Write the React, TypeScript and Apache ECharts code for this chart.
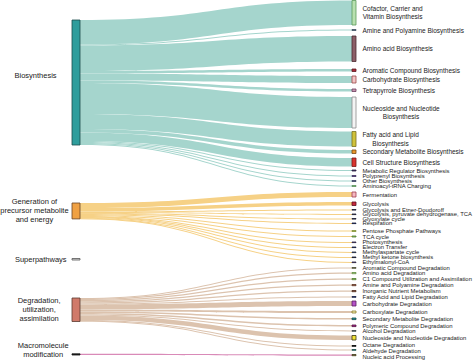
import React, { useEffect, useRef } from 'react';
import * as echarts from 'echarts';

// ---------- data ----------
const sourceNames = [
  'Biosynthesis',
  'Generation of\nprecursor metabolite\nand energy',
  'Superpathways',
  'Degradation,\nutilization,\nassimilation',
  'Macromolecule\nmodification',
];

const biosynthesisTargets = [
  'Cofactor, Carrier and\nVitamin Biosynthesis',
  'Amine and Polyamine Biosynthesis',
  'Amino acid Biosynthesis',
  'Aromatic Compound Biosynthesis',
  'Carbohydrate Biosynthesis',
  'Tetrapyrrole Biosynthesis',
  'Nucleoside and Nucleotide\nBiosynthesis',
  'Fatty acid and Lipid\nBiosynthesis',
  'Secondary Metabolite Biosynthesis',
  'Cell Structure Biosynthesis',
  'Metabolic Regulator Biosynthesis',
  'Polyprenyl Biosynthesis',
  'Other Biosynthesis',
  'Aminoacyl-tRNA Charging',
];
const biosynthesisValues = [24.5, 1, 25.5, 2.5, 7, 2.5, 31, 15, 3.5, 8.5, 1, 1, 1, 1];

const energyTargets = [
  'Fermentation',
  'Glycolysis',
  'Glycolysis and Etner-Doudoroff',
  'Glycolysis, pyruvate dehydrogenase, TCA',
  'Glyoxylate cycle',
  'Respiration',
  'Pentose Phosphate Pathways',
  'TCA cycle',
  'Photosynthesis',
  'Electron Transfer',
  'Methylaspartate cycle',
  'Methyl ketone biosynthesis',
  'Ethylmalonyl-CoA',
];
const energyValues = [5, 3.5, 0.6, 0.6, 0.6, 0.6, 1, 1, 0.6, 0.6, 0.6, 0.6, 0.6];

const superpathwaysValue = 1.5;

const degradationTargets = [
  'Aromatic Compound Degradation',
  'Amino acid Degradation',
  'C1 Compound Utilization and Assimilation',
  'Amine and Polyamine Degradation',
  'Inorganic Nutrient Metabolism',
  'Fatty Acid and Lipid Degradation',
  'Carbohydrate Degradation',
  'Carboxylate Degradation',
  'Secondary Metabolite Degradation',
  'Polymeric Compound Degradation',
  'Alcohol Degradation',
  'Nucleoside and Nucleotide Degradation',
  'Octane Degradation',
  'Aldehyde Degradation',
];
const degradationValues = [0.8, 1.2, 1.2, 1.2, 1.2, 0.8, 5, 2, 1.6, 1.6, 0.8, 4.5, 0.8, 0.8];

const modificationTargets = ['Nucleic acid Processing'];
const modificationValues = [1.2];

// ---------- layout (pixels within the 474x360 chart) ----------
const W = 474;
const H = 360;
const LEFT_X = 72;
const RIGHT_X = 352;
const sourceTops = [20, 203, 258.5, 298, 353.8];
const sourceLabelDistance = [15, 3, 5, 11, 3];
const sourceLabelDy = [-7, 0, 0, 0, -4.5];
const targetTops = [
  // biosynthesis
  0.5, 29.5, 36, 69, 76, 89, 97, 131.5, 150, 158, 170, 175.5, 180.5, 185.5,
  // energy
  192, 202, 209.5, 214, 218.5, 223, 230.5, 236, 242, 247, 252, 257, 262,
  // degradation
  267.5, 272.5, 278.5, 284.5, 290.5, 296.5, 301, 311, 318, 325, 330.5, 335.5, 345.5, 349.5,
  // modification
  354.5,
];
const targetLabelDy: Record<string, number> = {
  'Octane Degradation': -0.8,
  'Aldehyde Degradation': 0.6,
  'Nucleic acid Processing': 1.8,
};

// ---------- styles ----------
const sourceFill = ['#2f9d9c', '#f0a144', '#dcdcdc', '#d07a6a', '#222222'];
const sourceBorder = ['#1d4c4c', '#6a4526', '#555555', '#5a3a30', '#111111'];
const linkColors = ['#a5d5cd', '#f6d186', '#cccccc', '#dcc3ae', '#d98ab8'];
const LARGE_FONT = 6.5;
const SMALL_FONT = 5.9;
const targetFill = [
  '#b8e0b0', '#6f8fa0', '#8c5f68', '#b02a3a', '#f2c4c4', '#c896b0', '#f4f4f4', '#cfc23a', '#e8962a', '#d8342e', '#4a3f6a', '#7a5f9a', '#6a7aa8', '#dcecd0',
  '#f6b8c0', '#c8283c', '#2e3560', '#3a3a5a', '#3a3f66', '#25306a', '#e6ecb0', '#a8cf7a', '#5a4a7a', '#2a3a70', '#4a5a7a', '#2a2f55', '#5a5070',
  '#8a8a6a', '#cfe0b0', '#b8d890', '#a8705a', '#9a5a48', '#233a8a', '#b452c8', '#f4eeb0', '#2a9aa0', '#a8288c', '#7a8c8c', '#f2e438', '#151515', '#3a9a96',
  '#8a7a4a',
];
const targetBorder = [
  '#5a9a5a', '#3a4a5a', '#4a2a30', '#5a1a20', '#9a4a4a', '#6a3a5a', '#8a8a8a', '#7a7020', '#7a4a10', '#7a1a18', '#2a2040', '#3a2a5a', '#3a4060', '#4e8b4e',
  '#a04050', '#5a1020', '#1a1a30', '#1a1a30', '#1a1a30', '#10183a', '#7a8a2a', '#4a7a2a', '#2a2040', '#10183a', '#202a40', '#10142a', '#2a2040',
  '#4a4a30', '#5a8a3a', '#4a7a2a', '#5a3020', '#4a2818', '#101a40', '#5a2060', '#8a7a2a', '#10484a', '#501040', '#3a4444', '#3a3510', '#000000', '#184a48',
  '#403818',
];

const FONT = "'Liberation Sans', Arial, sans-serif";

const groups = [
  { targets: biosynthesisTargets, values: biosynthesisValues },
  { targets: energyTargets, values: energyValues },
  { targets: [] as string[], values: [] as number[] },
  { targets: degradationTargets, values: degradationValues },
  { targets: modificationTargets, values: modificationValues },
];

const richLabel = (p: any) =>
  String(p.name)
    .split('\n')
    .map((s) => `{c|${s}}`)
    .join('\n');

function buildSeries(showLeft: boolean) {
  const targets: { name: string; value: number; group: number }[] = [];
  groups.forEach((g, gi) =>
    g.targets.forEach((t, k) => targets.push({ name: t, value: g.values[k], group: gi }))
  );
  const sumRight = targets.reduce((a, b) => a + b.value, 0);
  const nodeGap = (H - sumRight) / (targets.length - 1);

  const data: any[] = [];
  sourceNames.forEach((name, i) => {
    data.push({
      name,
      value: i === 2 ? superpathwaysValue : undefined,
      localX: LEFT_X / W,
      localY: sourceTops[i] / H,
      itemStyle: {
        color: sourceFill[i],
        borderColor: sourceBorder[i],
        borderWidth: 0.8,
        opacity: showLeft ? 1 : 0,
      },
      label: {
        show: showLeft,
        position: 'left',
        distance: sourceLabelDistance[i],
        offset: [0, sourceLabelDy[i]],
        formatter: richLabel,
        rich: { c: { align: 'center', fontSize: 7.5, lineHeight: 9, color: '#222', fontFamily: FONT } },
      },
    });
  });
  targets.forEach((t, j) => {
    const large = t.group === 0 && j < 10;
    data.push({
      name: t.name,
      localX: RIGHT_X / W,
      localY: targetTops[j] / H,
      itemStyle: {
        color: targetFill[j],
        borderColor: targetBorder[j],
        borderWidth: 0.8,
        opacity: showLeft ? 0 : 1,
      },
      label: {
        show: !showLeft,
        position: 'right',
        distance: 6,
        offset: [0, targetLabelDy[t.name] || 0],
        formatter: richLabel,
        rich: {
          c: {
            align: 'center',
            fontSize: large ? LARGE_FONT : SMALL_FONT,
            lineHeight: large ? 8.3 : 7.2,
            color: '#222',
            fontFamily: FONT,
          },
        },
      },
    });
  });

  const links: any[] = [];
  groups.forEach((g, i) => {
    g.targets.forEach((t, k) => {
      links.push({
        source: sourceNames[i],
        target: t,
        value: g.values[k],
        lineStyle: { color: linkColors[i], opacity: showLeft ? 1 : 0, curveness: 0.5 },
      });
    });
  });

  return {
    type: 'sankey',
    left: 0,
    top: 0,
    right: 0,
    bottom: 0,
    nodeWidth: showLeft ? 8 : 4,
    nodeGap,
    nodeAlign: 'left',
    layoutIterations: 0,
    draggable: false,
    silent: true,
    emphasis: { disabled: true },
    data,
    links,
  };
}

export default function App() {
  const ref = useRef<HTMLDivElement>(null);
  useEffect(() => {
    if (!ref.current) return;
    const chart = echarts.init(ref.current, undefined, { renderer: 'svg' });
    chart.setOption({
      animation: false,
      backgroundColor: '#ffffff',
      series: [buildSeries(true), buildSeries(false)],
    });
    return () => chart.dispose();
  }, []);
  return (
    <div
      ref={ref}
      style={{ position: 'fixed', left: 0, top: 0, width: W, height: H }}
    />
  );
}
